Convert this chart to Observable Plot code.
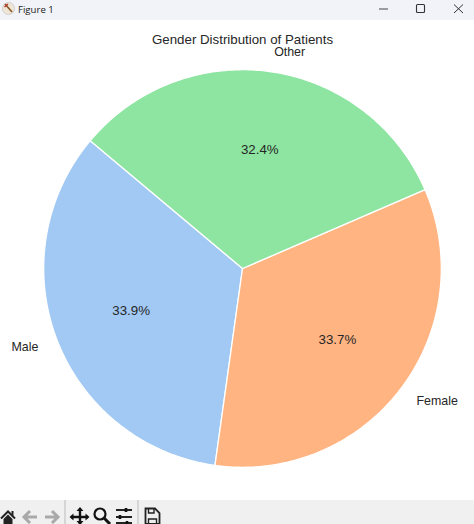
<!DOCTYPE html>
<html>
<head>
<meta charset="utf-8">
<script src="https://cdn.jsdelivr.net/npm/d3@7"></script>
<script src="https://cdn.jsdelivr.net/npm/@observablehq/plot@0.6"></script>
<style>
html,body{margin:0;padding:0;background:#fff;overflow:hidden}
body{width:474px;height:524px;position:relative;font-family:"Liberation Sans",Arial,sans-serif}
#bar{position:absolute;left:0;top:0;width:474px;height:20px;background:#f1f3f9;color:#222;font:9.6px "Open Sans","Liberation Sans",sans-serif}
#bar span{position:absolute;left:18px;top:2px;line-height:15px}
#bar svg{position:absolute;left:0;top:0}
#chart{position:absolute;left:0;top:20px}
#chart svg{display:block}
#tools{position:absolute;left:0;top:500px;width:474px;height:24px;background:#f0f0f0;overflow:hidden}
#tools svg{position:absolute;left:0;top:0}
</style>
</head>
<body>
<div id="bar">
<svg width="474" height="20" viewBox="0 0 474 20">
<circle cx="8.5" cy="8.5" r="6" fill="#efe6d6" stroke="#bbb" stroke-width=".6"/>
<path d="M5 4L12 12" stroke="#8a5a2b" stroke-width="1.6"/>
<path d="M4.5 7L8 4" stroke="#b33" stroke-width="1.4"/>
<path d="M379 9H388" stroke="#444" stroke-width="1"/>
<rect x="416.5" y="4.5" width="8" height="8" rx="1" fill="none" stroke="#333" stroke-width="1.1"/>
<path d="M454 4.5L463 13M463 4.5L454 13" stroke="#333" stroke-width="1"/>
</svg>
<span>Figure 1</span>
</div>
<div id="chart"></div>
<div id="tools">
<svg width="474" height="24" viewBox="0 0 474 24">
<path d="M1 18.5L8 11.5L15 18.5" fill="none" stroke="#222" stroke-width="2"/>
<path d="M3.5 19L8 14.5L12.5 19V24H3.5Z" fill="#222"/>
<path d="M11.5 11V14L13.5 16V11Z" fill="#222"/>
<path d="M37 17H25M30 11L24 17L30 23" fill="none" stroke="#a9a9a9" stroke-width="3"/>
<path d="M45 17H57M52 11L58 17L52 23" fill="none" stroke="#a9a9a9" stroke-width="3"/>
<path d="M65 0V24" stroke="#bbb" stroke-width="1"/>
<path d="M80 9V24M71 17H88" stroke="#111" stroke-width="2.4"/>
<path d="M80 7L76.5 11H83.5ZM69.5 17L73.5 13.5V20.5ZM89.5 17L85.5 13.5V20.5ZM80 25L76.5 21H83.5Z" fill="#111"/>
<circle cx="100" cy="14" r="5.5" fill="none" stroke="#111" stroke-width="2.2"/>
<path d="M104 18L110 24" stroke="#111" stroke-width="3"/>
<path d="M116 10H132M116 17H132M116 23H132" stroke="#222" stroke-width="1.8"/>
<path d="M126 8V12M120 15V19M127 21V24" stroke="#111" stroke-width="2.6"/>
<path d="M138 0V24" stroke="#bbb" stroke-width="1"/>
<path d="M145.5 8.5H155L159.5 13V24H145.5Z" fill="none" stroke="#222" stroke-width="1.8"/>
<path d="M148.5 9V13H154V9" fill="none" stroke="#222" stroke-width="1.4"/>
<path d="M148.5 24V19H156.5V24" fill="none" stroke="#222" stroke-width="1.4"/>
</svg>
</div>
<script>
const title = "Gender Distribution of Patients";
const categories = ["Male", "Female", "Other"];
const percents = [33.9, 33.7, 32.4];
const colors = ["#a1c9f4", "#ffb482", "#8de5a1"];
const startAngle = 140;

const W = 474, H = 480, cx = 242, cy = 248, R = 198.8;
const total = d3.sum(percents);
let angle = startAngle;
const outline = [], labels = [];
categories.forEach((name, i) => {
  const sweep = percents[i] / total * 360;
  const steps = Math.ceil(sweep);
  outline.push({name, x: 0, y: 0});
  for (let s = 0; s <= steps; s++) {
    const t = (angle + sweep * s / steps) * Math.PI / 180;
    outline.push({name, x: Math.cos(t), y: Math.sin(t)});
  }
  outline.push({name, x: 0, y: 0});
  const mid = (angle + sweep / 2) * Math.PI / 180;
  labels.push({
    name,
    pct: percents[i].toFixed(1) + "%",
    lx: 1.1 * Math.cos(mid), ly: 1.1 * Math.sin(mid),
    px: 0.6 * Math.cos(mid), py: 0.6 * Math.sin(mid)
  });
  angle += sweep;
});

const font = '"Liberation Sans", Arial, sans-serif';
const ink = "#262626";
const chart = Plot.plot({
  width: W, height: H,
  margin: 0,
  style: {background: "transparent", fontFamily: font, overflow: "visible"},
  x: {axis: null, domain: [-cx / R, (W - cx) / R], range: [0, W]},
  y: {axis: null, domain: [(cy - H) / R, cy / R], range: [H, 0]},
  color: {domain: categories, range: colors, legend: false},
  marks: [
    Plot.line(outline, {x: "x", y: "y", z: "name", fill: "name", stroke: "white", strokeWidth: 1.3, strokeLinejoin: "miter", strokeMiterlimit: 10}),
    Plot.text(labels.filter(d => d.lx > 0), {x: "lx", y: "ly", text: "name", textAnchor: "start", fontSize: 12.4, fill: ink}),
    Plot.text(labels.filter(d => d.lx <= 0), {x: "lx", y: "ly", text: "name", textAnchor: "end", fontSize: 12.4, fill: ink}),
    Plot.text(labels, {x: "px", y: "py", dy: -0.7, text: "pct", fontSize: 13.3, fill: ink}),
    Plot.text([title], {x: () => 0, frameAnchor: "top", dy: 14, text: d => d, fontSize: 13.3, fill: ink})
  ]
});
document.getElementById("chart").append(chart);
</script>
</body>
</html>
